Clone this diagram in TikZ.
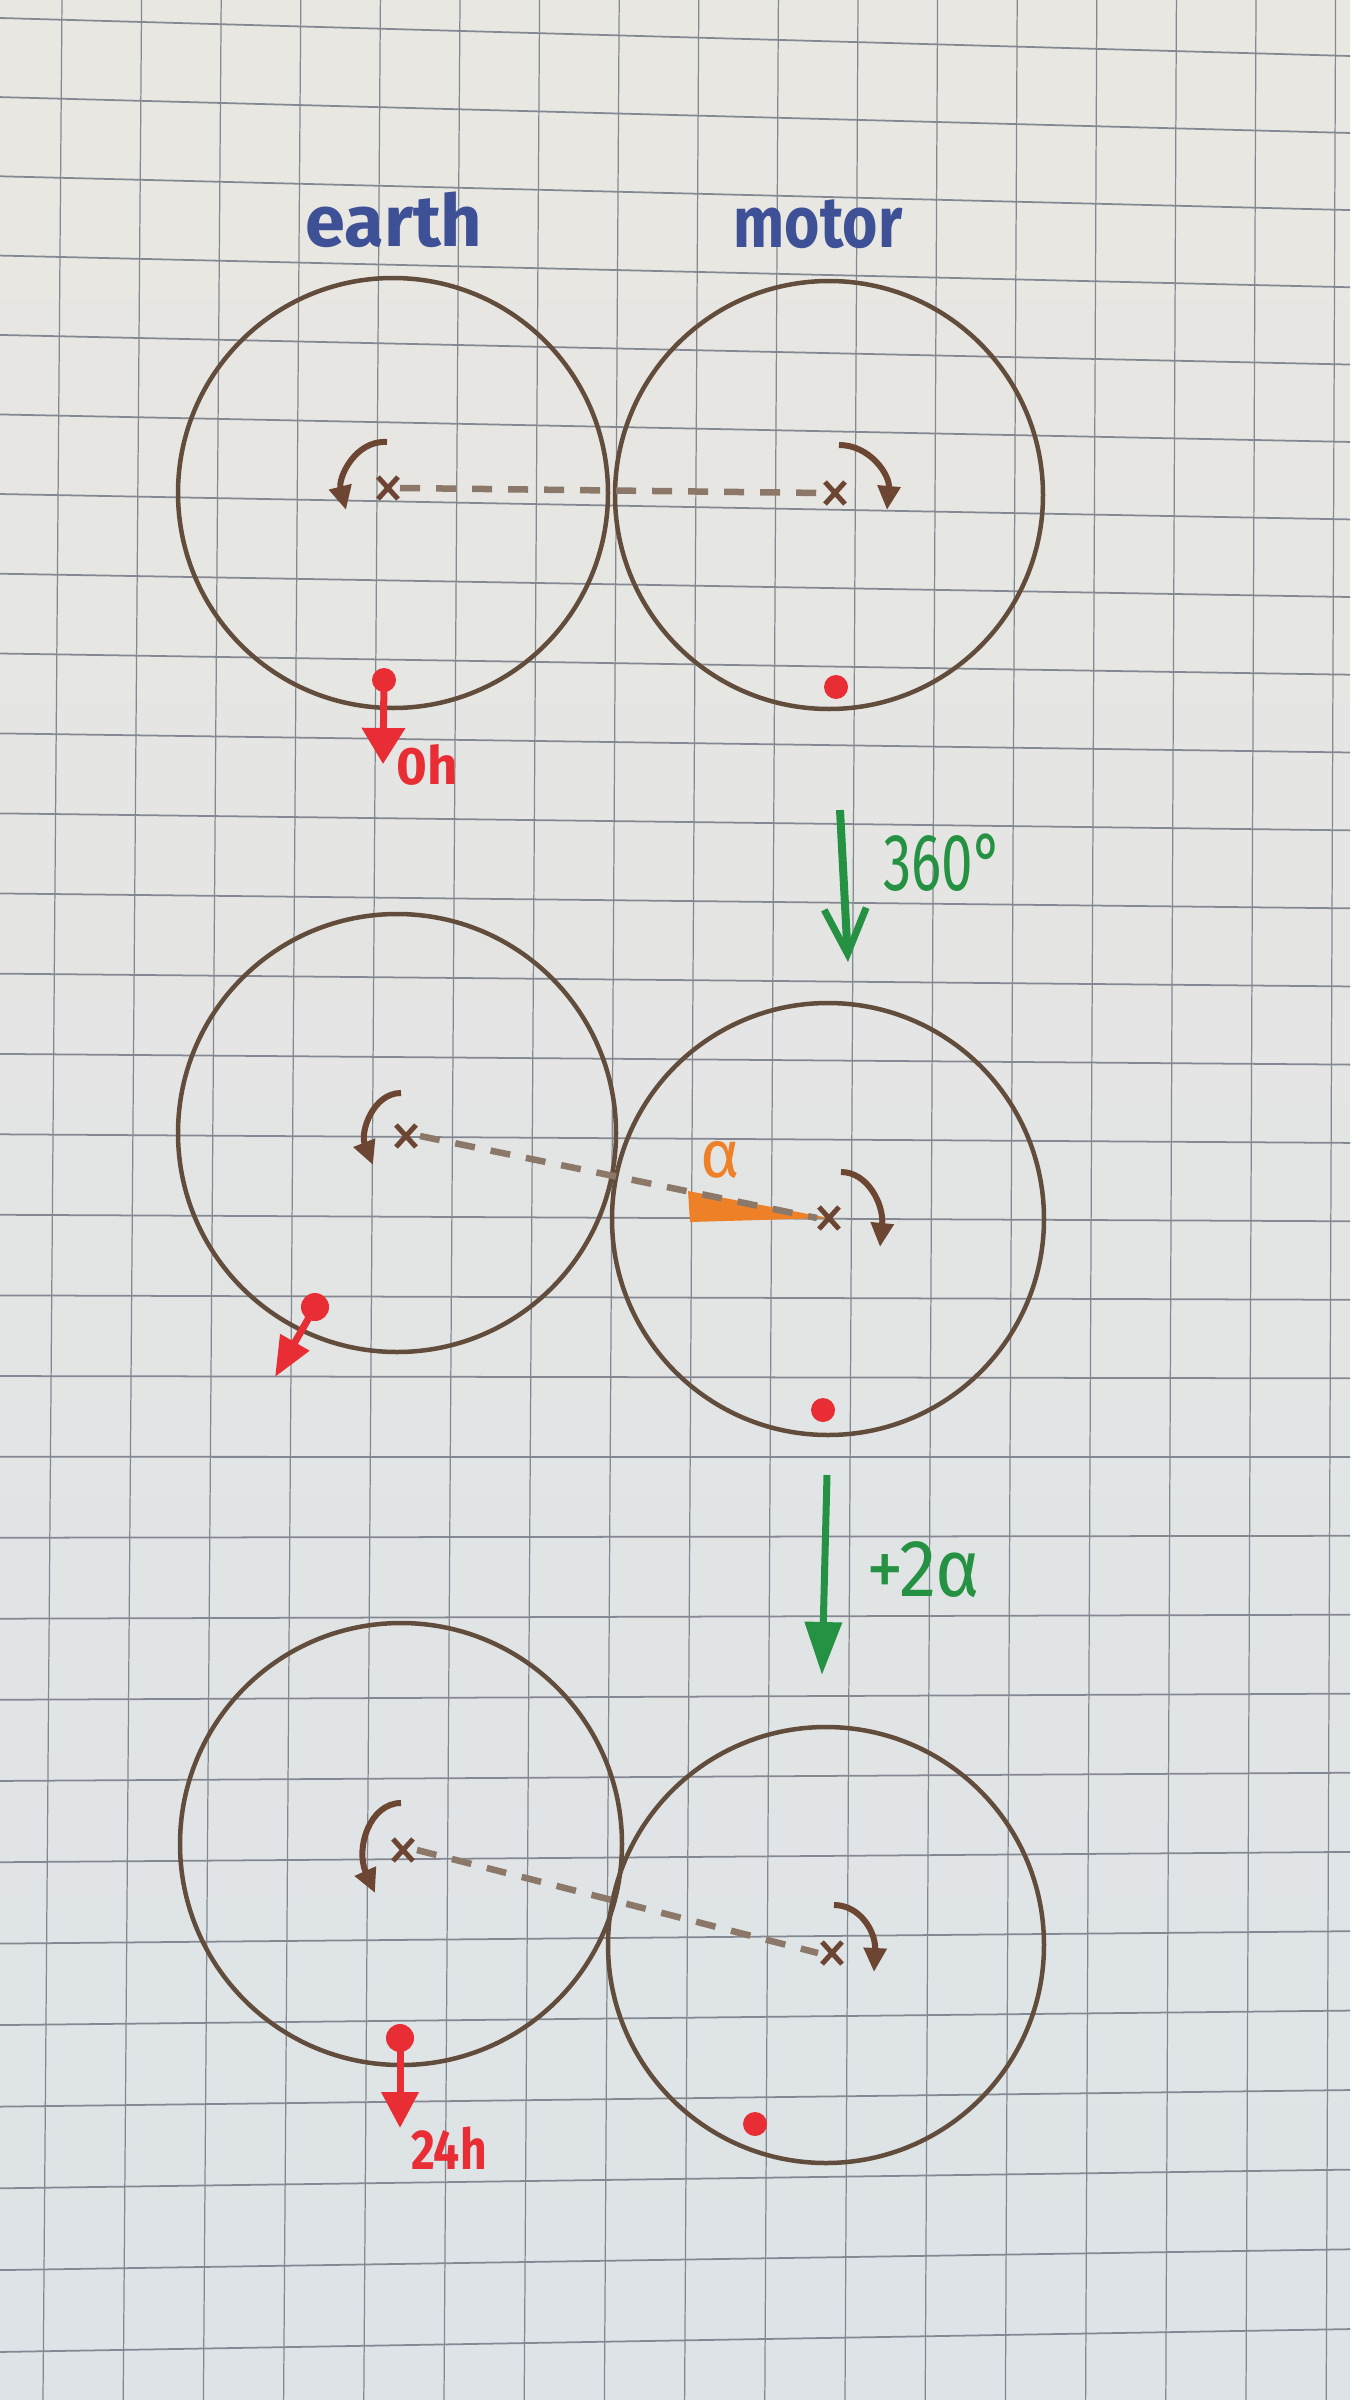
\documentclass[tikz,border=0pt]{standalone}
\usepackage{fontspec}
\setmainfont{Fira Sans}
\usetikzlibrary{arrows.meta}
\definecolor{paperT}{RGB}{233,231,225}
\definecolor{paperB}{RGB}{221,227,231}
\definecolor{gridc}{RGB}{132,136,146}
\definecolor{circc}{RGB}{98,76,60}
\definecolor{arrc}{RGB}{108,70,50}
\definecolor{dashc}{RGB}{140,120,104}
\definecolor{inkblue}{RGB}{62,80,150}
\definecolor{inkred}{RGB}{232,45,52}
\definecolor{inkgreen}{RGB}{36,146,66}
\definecolor{inkorange}{RGB}{238,128,40}
\begin{document}
\begin{tikzpicture}[x=0.01cm,y=-0.01cm,
  gridv/.style={draw=gridc,line width=0.35pt},
  gridh/.style={draw=gridc,line width=0.5pt},
  wheel/.style={draw=circc,line width=0.045cm},
  spin/.style={draw=arrc,line width=0.06cm,-{Triangle[length=0.24cm,width=0.22cm]}},
  axisline/.style={draw=dashc,line width=0.065cm,dash pattern=on 0.2cm off 0.16cm},
  cross/.style={draw=arrc,line width=0.05cm},
  reddot/.style={fill=inkred},
  redarrow/.style={draw=inkred,line width=0.07cm},
  txt/.style={inner sep=0pt,anchor=center},
  xcross/.pic={\draw[cross] (-10,-11) -- (10,11) (10,-11) -- (-10,11);}
]
\useasboundingbox (0,0) rectangle (1350,2400);
\shade[top color=paperT,bottom color=paperB] (0,0) rectangle (1350,2400);
\begin{scope}
\clip (0,0) rectangle (1350,2400);
\foreach \i in {0,...,16} {\draw[gridv] ({62+79.6*\i},0) -- ({43+80.2*\i},2400);}
\foreach \k in {0,...,30} {\draw[gridh] (0,{18+79.04*\k+0.0497*\k*\k}) -- (1350,{18+79.04*\k+0.0497*\k*\k+38-2.1*\k});}
\end{scope}

% ---------- coordinates
\coordinate (CL1) at (393,493);
\coordinate (CR1) at (829,495);
\coordinate (E1) at (388,488);
\coordinate (M1) at (835,493);
\coordinate (CL2) at (397,1133);
\coordinate (CR2) at (828,1219);
\coordinate (E2) at (406,1136);
\coordinate (M2) at (829,1218);
\coordinate (CL3) at (401,1844);
\coordinate (CR3) at (826,1945);
\coordinate (E3) at (403,1850);
\coordinate (M3) at (832,1953);

% ---------- labels on top
\node[txt,text=inkblue,font=\fontsize{20.5}{24}\selectfont\bfseries] (earth) at (394,220) {earth};
\node[txt,text=inkblue,font=\fontsize{20.5}{24}\selectfont\bfseries] (motor) at (818,224) {\scalebox{0.84}[1]{motor}};

% ---------- row 1
\draw[wheel] (CL1) circle[radius=215];
\draw[wheel] (CR1) circle[radius=214];
\draw[axisline] ([xshift=0.12cm]E1) -- ([xshift=-0.12cm]M1);
\pic at (E1) {xcross};
\pic at (M1) {xcross};
\draw[spin] (387,442) .. controls (355,440) and (338,478) .. (346,510);
\draw[spin] (839,445) .. controls (870,445) and (890,475) .. (887,510);
\coordinate (d1) at (384,680);
\coordinate (d1t) at (383,764);
\draw[redarrow,-{Triangle[length=0.36cm,width=0.42cm]}] (d1) -- (d1t);
\fill[reddot] (d1) circle[radius=12];
\node[txt,text=inkred,font=\fontsize{15}{18}\selectfont\bfseries] (oh) at (427,765) {0h};
\fill[reddot] (836,687) circle[radius=12];

% ---------- green arrow 1
\coordinate (g1s) at (840,810);
\coordinate (g1e) at (848,962);
\draw[draw=inkgreen,line width=0.08cm,-{Straight Barb[length=0.45cm,width=0.42cm,line width=0.07cm]}] (g1s) -- (g1e);
\node[txt,text=inkgreen,font=\fontsize{23}{26}\selectfont] (deg) at (943,863) {\scalebox{0.7}[1]{360°}};

% ---------- row 2
\draw[wheel] (CL2) circle[radius=219];
\draw[wheel] (CR2) circle[radius=216];
\coordinate (w1) at (688,1191);
\coordinate (w2) at (690,1222);
\fill[inkorange] (w1) -- (w2) -- (M2) -- cycle;
\draw[axisline] ([xshift=0.14cm]E2) -- ([xshift=-0.12cm]M2);
\pic at (E2) {xcross};
\pic at (M2) {xcross};
\node[txt,text=inkorange,font=\fontsize{19}{22}\selectfont] (alpha) at (720,1160) {α};
\draw[spin] (401,1093) .. controls (373,1093) and (360,1132) .. (373,1165);
\draw[spin] (841,1172) .. controls (868,1172) and (884,1205) .. (880,1247);
\coordinate (d2) at (315,1307);
\coordinate (d2t) at (275,1377);
\draw[redarrow,-{Triangle[length=0.4cm,width=0.32cm]}] (d2) -- (d2t);
\fill[reddot] (d2) circle[radius=14];
\fill[reddot] (823,1410) circle[radius=12];

% ---------- green arrow 2
\coordinate (g2s) at (827,1475);
\coordinate (g2e) at (822,1675);
\draw[draw=inkgreen,line width=0.07cm,-{Triangle[length=0.53cm,width=0.36cm]}] (g2s) -- (g2e);
\node[txt,text=inkgreen,font=\fontsize{23}{26}\selectfont] (plus) at (923,1570) {\scalebox{0.93}[1]{+2α}};

% ---------- row 3
\draw[wheel] (CL3) circle[radius=221];
\draw[wheel] (CR3) circle[radius=218];
\draw[axisline] ([xshift=0.14cm]E3) -- ([xshift=-0.14cm]M3);
\pic at (E3) {xcross};
\pic at (M3) {xcross};
\draw[spin] (401,1803) .. controls (370,1803) and (355,1848) .. (375,1893);
\draw[spin] (834,1905) .. controls (860,1905) and (876,1932) .. (874,1972);
\coordinate (d3) at (400,2038);
\coordinate (d3t) at (400,2128);
\draw[redarrow,-{Triangle[length=0.36cm,width=0.36cm]}] (d3) -- (d3t);
\fill[reddot] (d3) circle[radius=14];
\node[txt,text=inkred,font=\fontsize{16}{19}\selectfont\bfseries] (tfh) at (449,2148) {\scalebox{0.82}[1]{24h}};
\fill[reddot] (755,2124) circle[radius=12];
\end{tikzpicture}
\end{document}
